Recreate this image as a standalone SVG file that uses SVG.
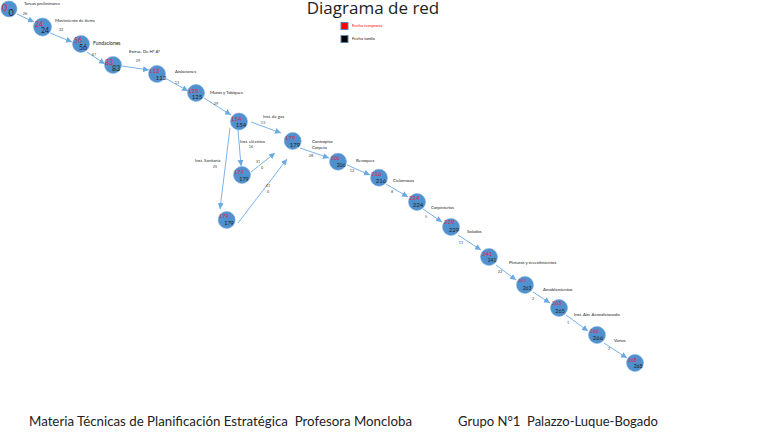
<svg xmlns="http://www.w3.org/2000/svg" width="768" height="433" viewBox="0 0 768 433">
<style>
text{font-family:"Lato","Liberation Sans",sans-serif}
.n{fill:#4f90cf;stroke:#7fadd8;stroke-width:.6}
.e{fill:#e0244a;font-size:7px}
.l{fill:#222;font-size:7px;text-anchor:middle}
.c{stroke:#7ab3e8;stroke-width:1;fill:none;marker-end:url(#a)}
.t{fill:#222;font-size:4.300px}
.d{fill:#444;font-size:3.800px;text-anchor:middle}
.f{fill:#222;font-size:13px;white-space:pre}
</style>
<defs><marker id="a" markerUnits="userSpaceOnUse" markerWidth="7" markerHeight="7" refX="6" refY="3" orient="auto"><path d="M0 0L6 3L0 6Z" fill="#6aaae4"/></marker></defs>
<rect width="768" height="433" fill="#fff"/>
<text x="373" y="14" text-anchor="middle" style="font-family:'Open Sans',sans-serif;font-size:17px;fill:#222">Diagrama de red</text>
<g id="legend">
<rect x="341" y="22.500" width="7" height="7" fill="#f00" stroke="#5b86b0"/>
<text x="352" y="27" style="fill:#f00;font-size:4.300px">Fecha temprana</text>
<rect x="341" y="35.500" width="7" height="7" fill="#000" stroke="#5b86b0"/>
<text x="352" y="40" class="t">Fecha tardía</text>
</g>
<g id="connectors">
<path class="c" d="M17 14L34 22"/>
<path class="c" d="M50 33L72 42"/>
<path class="c" d="M87 52L105 64"/>
<path class="c" d="M122 66L149 70"/>
<path class="c" d="M165 78L188 91"/>
<path class="c" d="M204 98L231 115"/>
<path class="c" d="M251 122L281 133"/>
<path class="c" d="M238 130L241 166"/>
<path class="c" d="M230 128L220 209"/>
<path class="c" d="M251 172L275 153"/>
<path class="c" d="M238 223L287 159"/>
<path class="c" d="M300 148L329 158"/>
<path class="c" d="M347 165L370 175"/>
<path class="c" d="M386 184L408 197"/>
<path class="c" d="M423 209L442 222"/>
<path class="c" d="M458 235L481 250"/>
<path class="c" d="M496 265L516 280"/>
<path class="c" d="M533 292L550 303"/>
<path class="c" d="M566 315L588 331"/>
<path class="c" d="M604 343L627 358"/>
</g>
<g id="n0"><circle class="n" cx="9" cy="9" r="8"/><text class="e" x="2" y="11" style="font-size:9px">0</text><text class="l" x="11" y="16" style="font-size:9px">0</text><text class="t" x="24" y="5">Tareas preliminares</text><text class="d" x="25" y="15">26</text></g>
<g id="n1"><circle class="n" cx="42.500" cy="27" r="9"/><text class="e" x="35" y="27">24</text><text class="l" x="45" y="33">24</text><text class="t" x="55" y="22">Movimiento de tierra</text><text class="d" x="61" y="31">32</text></g>
<g id="n2"><circle class="n" cx="81" cy="44" r="8.500"/><text class="e" x="74" y="43">56</text><text class="l" x="83" y="50">56</text><text class="t" x="93" y="45" style="font-size:5px">Fundaciones</text><text class="d" x="94" y="56">47</text></g>
<g id="n3"><circle class="n" cx="113" cy="65" r="8.500"/><text class="e" x="105" y="65">83</text><text class="l" x="116" y="71">83</text><text class="t" x="129" y="53">Estruc. De Hº Aº</text><text class="d" x="138" y="62">29</text></g>
<g id="n4"><circle class="n" cx="157" cy="74" r="8.500"/><text class="e" x="149" y="73" style="font-size:6px">112</text><text class="l" x="161" y="80" style="font-size:6px">112</text><text class="t" x="175" y="73">Aislaciones</text><text class="d" x="177" y="84">13</text></g>
<g id="n5"><circle class="n" cx="196" cy="93" r="8.500"/><text class="e" x="188" y="93" style="font-size:6px">125</text><text class="l" x="197" y="99" style="font-size:6px">125</text><text class="t" x="210" y="94">Muros y Tabiques</text><text class="d" x="216" y="105">29</text></g>
<g id="n6"><circle class="n" cx="239" cy="121.500" r="8.500"/><text class="e" x="231" y="121" style="font-size:6px">154</text><text class="l" x="241" y="127" style="font-size:6px">154</text><text class="t" x="263" y="118">Inst. de gas</text><text class="d" x="263" y="124">13</text></g>
<g id="n7"><circle class="n" cx="292.700" cy="141" r="8.500"/><text class="e" x="285" y="140" style="font-size:6px">179</text><text class="l" x="295" y="147" style="font-size:6px">179</text><text class="t" x="312" y="143">Contrapiso</text><text class="t" x="312" y="149">Carpeta</text><text class="d" x="311" y="157">28</text></g>
<g id="n8"><circle class="n" cx="242" cy="175" r="8.500"/><text class="e" x="234" y="173.500" style="font-size:5.500px">179</text><text class="l" x="244" y="180.500" style="font-size:5.500px">179</text><text class="t" x="240" y="143">Inst. eléctrica</text><text class="d" x="251" y="148">16</text><text class="d" x="258" y="163">31</text><text class="d" x="262" y="169">0</text></g>
<g id="n9"><circle class="n" cx="226.700" cy="220" r="8.500"/><text class="e" x="219" y="218" style="font-size:5.500px">179</text><text class="l" x="229" y="225" style="font-size:5.500px">179</text><text class="t" x="195" y="162">Inst. Sanitaria</text><text class="d" x="215" y="168">25</text><text class="d" x="268" y="187">41</text><text class="d" x="268" y="193">0</text></g>
<g id="n10"><circle class="n" cx="338" cy="161.700" r="8.500"/><text class="e" x="331" y="160" style="font-size:5px">206</text><text class="l" x="341" y="167" style="font-size:5px">206</text><text class="t" x="356" y="162">Revoques</text><text class="d" x="352" y="172">12</text></g>
<g id="n11"><circle class="n" cx="379" cy="177.700" r="8.500"/><text class="e" x="371" y="176" style="font-size:6px">216</text><text class="l" x="381" y="183" style="font-size:6px">216</text><text class="t" x="393" y="182">Cielorrasos</text><text class="d" x="392" y="193">8</text></g>
<g id="n12"><circle class="n" cx="417" cy="202" r="8.500"/><text class="e" x="409" y="200" style="font-size:6px">224</text><text class="l" x="418" y="207" style="font-size:6px">224</text><text class="t" x="431" y="209">Carpinterías</text><text class="d" x="426" y="218">5</text></g>
<g id="n13"><circle class="n" cx="451" cy="227" r="8.500"/><text class="e" x="444" y="224" style="font-size:6px">229</text><text class="l" x="454" y="232" style="font-size:6px">229</text><text class="t" x="467" y="233">Solados</text><text class="d" x="461" y="244">11</text></g>
<g id="n14"><circle class="n" cx="489" cy="257" r="8.500"/><text class="e" x="482" y="256" style="font-size:6px">241</text><text class="l" x="492" y="262" style="font-size:5px">241</text><text class="t" x="509" y="264">Pinturas y revestimientos</text><text class="d" x="500" y="273">22</text></g>
<g id="n15"><circle class="n" cx="525" cy="285" r="8.500"/><text class="e" x="518" y="282" style="font-size:4.500px">263</text><text class="l" x="527" y="290" style="font-size:5px">263</text><text class="t" x="543" y="291">Amoblamientos</text><text class="d" x="533" y="300">2</text></g>
<g id="n16"><circle class="n" cx="559" cy="308" r="8.500"/><text class="e" x="552" y="305" style="font-size:5.500px">265</text><text class="l" x="560" y="313" style="font-size:5.500px">265</text><text class="t" x="574" y="316">Inst. Aire Acondicionado</text><text class="d" x="568" y="324">1</text></g>
<g id="n17"><circle class="n" cx="597" cy="335" r="8.500"/><text class="e" x="590" y="333" style="font-size:5px">266</text><text class="l" x="598" y="340" style="font-size:6px">266</text><text class="t" x="614" y="342">Varios</text><text class="d" x="609" y="350">2</text></g>
<g id="n18"><circle class="n" cx="635" cy="363" r="8.500"/><text class="e" x="628" y="362" style="font-size:5px">268</text><text class="l" x="638" y="368" style="font-size:5px">268</text></g>
<g id="footer">
<text class="f" x="29" y="426" textLength="383" lengthAdjust="spacingAndGlyphs">Materia Técnicas de Planificación Estratégica  Profesora Moncloba</text>
<text class="f" x="458" y="426" textLength="200" lengthAdjust="spacingAndGlyphs">Grupo N°1  Palazzo-Luque-Bogado</text>
</g>
</svg>
